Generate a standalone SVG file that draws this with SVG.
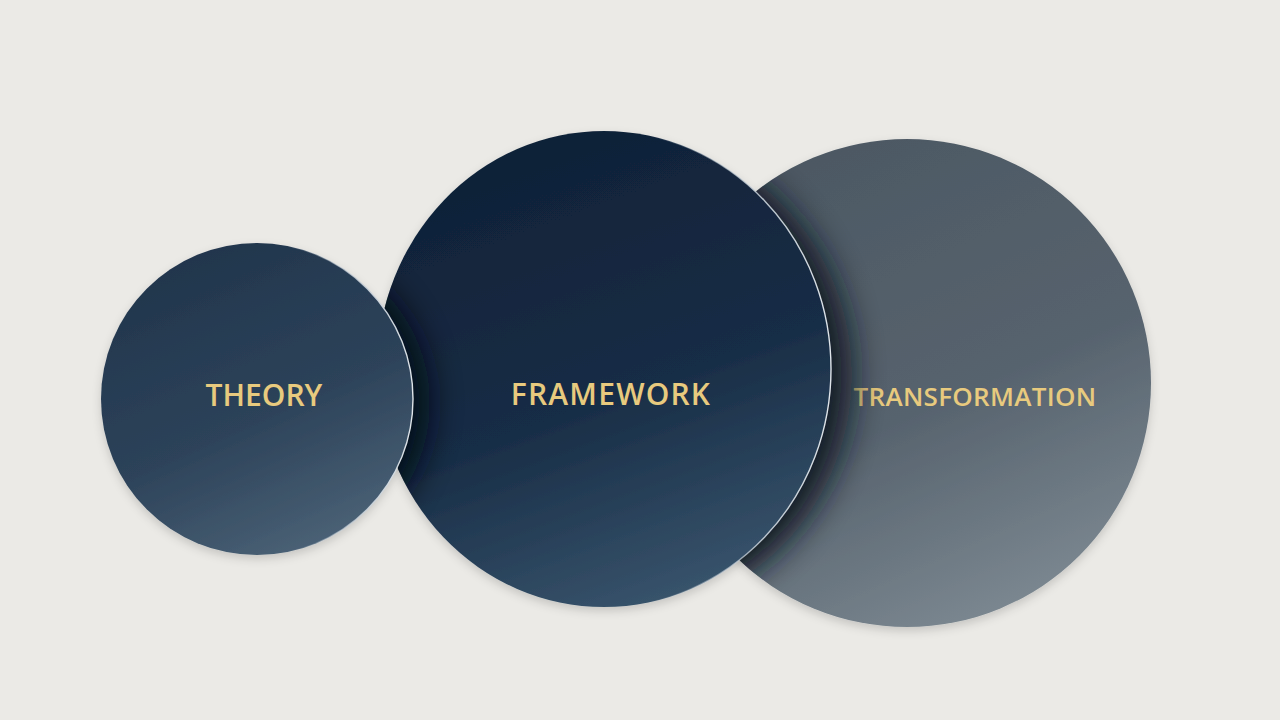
<svg xmlns="http://www.w3.org/2000/svg" width="1280" height="720" viewBox="0 0 1280 720">
  <style>
    .label { font-family: "Open Sans", "Liberation Sans", sans-serif; font-weight: 600; fill: #e8ca7e; text-anchor: middle; }
    .rim { fill: none; stroke: url(#gRim); stroke-width: 1.4; }
  </style>
  <defs>
    <linearGradient id="gTheory" x1="0.3" y1="0" x2="0.75" y2="1">
      <stop offset="0" stop-color="#21354c"/>
      <stop offset="0.55" stop-color="#2d435a"/>
      <stop offset="1" stop-color="#4d6478"/>
    </linearGradient>
    <linearGradient id="gFrame" x1="0.35" y1="0" x2="0.7" y2="1">
      <stop offset="0" stop-color="#0f2137"/>
      <stop offset="0.55" stop-color="#182d46"/>
      <stop offset="1" stop-color="#3a566e"/>
    </linearGradient>
    <linearGradient id="gTrans" x1="0.3" y1="0" x2="0.75" y2="1">
      <stop offset="0" stop-color="#4c5863"/>
      <stop offset="0.55" stop-color="#57636e"/>
      <stop offset="1" stop-color="#7f8b94"/>
    </linearGradient>
    <linearGradient id="gRim" x1="0" y1="0" x2="1" y2="0">
      <stop offset="0" stop-color="#c9d2da" stop-opacity="0"/>
      <stop offset="0.6" stop-color="#c9d2da" stop-opacity="0"/>
      <stop offset="0.85" stop-color="#c9d2da" stop-opacity="0.9"/>
      <stop offset="1" stop-color="#dfe5ea" stop-opacity="1"/>
    </linearGradient>
    <filter id="soft" x="-30%" y="-30%" width="160%" height="160%">
      <feGaussianBlur stdDeviation="16"/>
    </filter>
    <filter id="drop" x="-20%" y="-20%" width="140%" height="140%">
      <feDropShadow dx="0" dy="4" stdDeviation="5" flood-color="#000" flood-opacity="0.16"/>
    </filter>
    <clipPath id="clipFrame"><ellipse cx="604" cy="369" rx="227" ry="238"/></clipPath>
    <clipPath id="clipTrans"><ellipse cx="907" cy="383" rx="244" ry="244"/></clipPath>
  </defs>
  <rect width="1280" height="720" fill="#ebeae6"/>

  <g id="node-transformation">
    <circle cx="907" cy="383" r="244" fill="url(#gTrans)" filter="url(#drop)"/>
    <text class="label" x="975" y="406" font-size="26" letter-spacing="0.3">TRANSFORMATION</text>
  </g>

  <g id="shadow-frame-on-trans" clip-path="url(#clipTrans)">
    <ellipse cx="622" cy="375" rx="230" ry="238" fill="#0a1420" opacity="0.9" filter="url(#soft)"/>
  </g>

  <g id="node-framework">
    <ellipse cx="604" cy="369" rx="227" ry="238" fill="url(#gFrame)" filter="url(#drop)"/>
    <ellipse class="rim" cx="604" cy="369" rx="227" ry="238"/>
    <text class="label" x="611" y="405" font-size="30" letter-spacing="1.2">FRAMEWORK</text>
  </g>

  <g id="shadow-theory-on-frame" clip-path="url(#clipFrame)">
    <circle cx="272" cy="403" r="158" fill="#050c16" opacity="0.9" filter="url(#soft)"/>
  </g>

  <g id="node-theory">
    <circle cx="257" cy="399" r="156" fill="url(#gTheory)" filter="url(#drop)"/>
    <circle class="rim" cx="257" cy="399" r="156"/>
    <text class="label" x="264" y="406" font-size="30">THEORY</text>
  </g>

  <g id="connectors"></g>
</svg>
